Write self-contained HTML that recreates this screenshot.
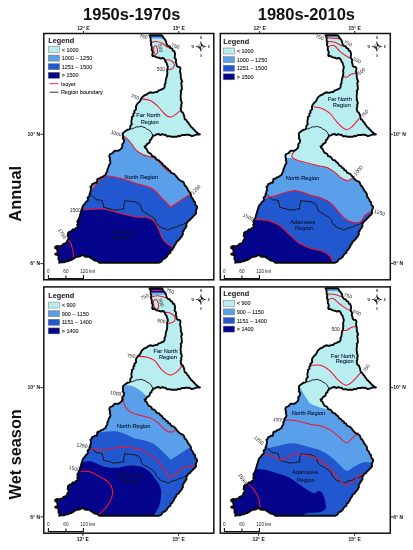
<!DOCTYPE html>
<html><head><meta charset="utf-8"><title>Rainfall maps</title>
<style>
html,body{margin:0;padding:0;background:#fff}
body{width:413px;height:550px;overflow:hidden}
svg{display:block}
text{font-family:"Liberation Sans",sans-serif}
.ttl{font-size:16.5px;font-weight:bold;fill:#111}
.il{font-size:5px;fill:#222;text-anchor:middle}
.rl{font-size:5.7px;fill:#0a1838;stroke:#0a1838;stroke-width:0.1px;text-anchor:middle}
.lt{font-size:7.3px;font-weight:bold;fill:#111}
.lg{font-size:5.5px;fill:#1a1a1a;stroke:#1a1a1a;stroke-width:0.1px}
.sc{font-size:4.6px;fill:#222}
.tk{font-size:5px;font-weight:bold;fill:#111}
.cp{font-size:2.8px;font-weight:bold;fill:#333;text-anchor:middle}
</style></head><body>
<svg width="413" height="550" viewBox="0 0 413 550">
<defs>
<clipPath id="clipOut"><path d="M149.5 35.3 L161.5 35.3 L162.6 36.1 L163.1 37.5 L164.0 38.5 L165.2 39.9 L166.1 41.5 L166.3 43.0 L166.8 44.5 L168.0 45.9 L169.8 46.5 L170.7 48.2 L172.3 48.7 L172.8 50.6 L174.3 51.2 L174.8 52.8 L175.1 54.4 L174.9 56.0 L174.6 57.6 L175.7 58.9 L176.1 60.3 L175.8 62.2 L176.5 63.9 L176.7 65.7 L177.8 66.7 L179.4 66.9 L180.4 68.1 L180.3 69.9 L180.0 71.8 L180.6 73.6 L180.8 75.2 L180.7 76.8 L181.0 78.4 L181.5 80.0 L182.2 81.5 L181.2 83.1 L181.5 84.7 L181.7 86.2 L181.8 87.8 L182.0 89.3 L180.7 90.8 L181.1 92.4 L180.9 93.9 L180.7 95.5 L180.6 97.2 L181.0 98.8 L180.8 100.4 L181.7 102.0 L181.7 103.6 L181.1 105.1 L181.4 106.7 L180.6 108.1 L181.0 109.7 L181.2 111.5 L182.9 112.6 L183.5 114.1 L184.1 115.7 L184.4 117.4 L184.8 119.2 L186.4 120.1 L187.2 121.7 L188.5 122.8 L189.2 124.3 L190.4 125.6 L191.2 127.1 L192.6 128.0 L193.6 129.3 L194.9 130.4 L195.8 131.8 L197.2 132.6 L198.3 133.9 L199.9 134.5 L198.1 134.3 L196.4 134.5 L194.8 135.2 L193.1 135.8 L191.4 136.1 L189.9 135.0 L188.3 134.7 L186.7 134.6 L185.0 135.0 L183.4 134.9 L181.6 135.1 L180.1 136.2 L178.2 135.9 L176.6 136.8 L171.8 136.8 L170.3 136.3 L168.6 136.3 L167.0 136.3 L165.7 134.8 L164.0 134.9 L162.3 134.0 L160.4 135.1 L158.8 134.0 L157.0 134.2 L155.7 134.8 L154.4 135.6 L152.9 135.6 L152.7 136.9 L151.6 137.9 L151.5 139.2 L149.9 140.3 L149.6 142.5 L147.9 143.6 L146.7 144.4 L146.1 146.0 L144.6 146.5 L145.2 147.9 L146.5 148.8 L147.1 150.1 L147.8 151.6 L148.8 152.8 L150.4 153.4 L151.5 154.5 L152.1 156.1 L153.9 156.5 L155.2 157.3 L155.9 158.8 L157.2 160.0 L159.2 160.4 L160.2 162.0 L161.7 162.9 L162.6 164.2 L163.6 165.6 L165.2 166.3 L166.0 167.8 L167.7 168.3 L168.3 170.1 L170.0 170.5 L170.7 172.2 L172.1 173.1 L173.7 173.6 L175.0 174.8 L176.1 176.1 L177.2 177.5 L178.3 178.9 L179.6 180.0 L180.8 180.8 L182.1 181.4 L183.4 182.0 L184.2 183.7 L184.8 185.5 L186.3 186.8 L187.3 188.4 L188.0 190.2 L189.2 191.6 L190.3 193.0 L191.0 194.6 L190.9 196.6 L192.3 197.9 L193.1 199.4 L193.7 200.9 L195.0 202.0 L195.2 203.7 L195.6 205.2 L197.0 206.4 L197.0 208.1 L196.3 209.7 L195.8 211.3 L196.1 213.2 L195.0 214.7 L193.6 215.9 L192.5 217.3 L191.0 218.4 L190.0 220.0 L188.4 220.9 L187.3 222.4 L186.3 224.0 L186.5 226.1 L185.7 227.7 L184.4 229.2 L183.6 230.7 L182.6 232.1 L183.0 234.0 L182.1 235.5 L181.5 237.0 L180.2 238.1 L179.2 239.6 L178.0 240.7 L176.6 241.8 L176.1 243.3 L175.2 244.6 L174.2 245.8 L173.8 247.4 L172.8 248.6 L172.0 250.0 L170.6 250.9 L170.4 252.8 L168.9 253.7 L167.7 254.8 L167.0 256.3 L165.9 257.6 L164.6 258.7 L162.8 259.2 L162.0 260.8 L160.8 262.0 L159.2 262.7 L99.7 262.8 L98.6 262.2 L97.6 261.3 L96.4 260.9 L94.5 260.5 L93.1 259.4 L91.5 258.5 L90.0 257.4 L88.4 256.6 L86.6 256.9 L84.9 256.5 L83.7 255.3 L82.0 255.0 L80.6 256.1 L79.0 256.6 L77.2 256.8 L75.5 257.2 L74.2 258.4 L72.6 259.1 L71.1 260.1 L69.4 260.4 L67.8 261.4 L66.0 261.3 L64.4 262.2 L62.6 262.3 L60.8 262.1 L59.2 262.8 L59.5 261.1 L58.5 259.4 L58.5 257.7 L58.7 256.0 L57.2 254.9 L55.3 254.5 L55.3 253.6 L56.3 253.5 L57.3 253.1 L57.7 251.5 L57.1 250.0 L57.3 248.4 L55.3 248.2 L55.0 247.1 L55.8 246.3 L57.5 245.9 L59.2 246.5 L60.9 245.6 L62.6 245.8 L62.9 244.7 L63.6 243.9 L65.0 243.3 L66.5 242.9 L67.0 241.4 L67.7 240.0 L68.4 238.6 L68.8 237.2 L67.6 236.1 L67.9 234.7 L68.0 232.9 L69.4 231.8 L70.9 231.5 L72.0 230.6 L72.8 229.4 L74.7 229.4 L76.0 228.0 L77.6 227.4 L78.0 226.1 L77.1 225.0 L78.0 223.5 L77.3 221.7 L78.0 220.2 L78.9 218.8 L79.6 217.2 L80.0 215.6 L80.4 214.0 L81.0 212.4 L81.3 210.8 L82.0 209.2 L82.4 207.6 L82.8 206.0 L83.9 204.7 L85.0 203.7 L85.7 202.2 L87.0 201.3 L88.0 199.7 L87.6 197.5 L89.4 196.2 L89.5 194.2 L90.2 193.0 L90.4 191.6 L91.0 190.0 L91.0 188.4 L90.4 186.8 L91.8 185.6 L92.2 183.9 L93.7 183.7 L95.0 182.6 L96.6 182.9 L97.2 181.2 L97.2 179.4 L98.0 178.6 L99.2 178.7 L100.7 177.5 L102.6 176.9 L104.1 175.8 L105.7 174.8 L106.1 173.0 L107.4 171.4 L107.3 169.4 L108.2 168.0 L108.6 166.4 L109.2 164.9 L110.2 163.6 L110.5 161.9 L109.8 160.3 L110.1 158.6 L109.4 157.1 L109.4 155.4 L110.2 154.1 L111.6 153.5 L112.9 152.9 L113.7 151.6 L115.2 150.6 L117.1 150.9 L118.8 150.5 L120.3 149.4 L121.4 148.4 L122.1 147.2 L122.4 145.8 L122.2 144.1 L123.6 142.9 L123.9 141.4 L124.2 139.9 L122.8 138.6 L123.2 137.0 L122.9 135.6 L122.9 134.1 L123.2 132.7 L124.3 132.0 L125.3 131.2 L126.5 130.4 L127.8 129.7 L129.3 129.4 L130.4 128.3 L130.2 126.6 L130.8 125.2 L131.9 124.0 L131.4 122.3 L131.4 120.6 L131.9 118.9 L131.8 117.0 L133.5 115.7 L133.3 113.8 L134.5 112.8 L134.2 111.0 L135.5 110.0 L136.2 108.7 L135.9 107.2 L136.2 105.8 L136.9 104.5 L137.8 103.3 L138.9 102.3 L139.9 101.3 L140.6 100.0 L141.3 98.8 L141.8 97.4 L143.3 96.3 L144.8 95.1 L146.7 94.5 L147.5 93.6 L148.6 93.0 L150.3 92.3 L152.1 92.7 L153.9 92.7 L155.5 92.0 L157.3 92.0 L158.3 90.7 L159.8 90.1 L161.2 89.5 L162.7 89.0 L164.0 88.1 L164.7 86.6 L164.6 84.8 L165.5 83.3 L165.6 81.7 L165.8 80.0 L166.1 78.6 L166.5 77.3 L167.1 76.0 L167.1 74.4 L167.4 72.8 L167.1 71.2 L167.2 69.6 L167.8 68.0 L167.7 66.3 L167.0 64.5 L166.5 62.7 L165.4 61.5 L164.9 59.9 L164.0 58.5 L162.5 58.0 L160.8 58.6 L159.3 57.8 L157.7 57.6 L156.2 57.2 L155.1 56.3 L153.9 55.8 L152.5 56.0 L152.2 54.5 L152.8 52.8 L152.5 51.3 L151.7 49.8 L151.9 48.2 L151.6 46.4 L150.8 44.6 L151.4 42.7 L150.7 40.9 L150.6 39.5 L150.6 38.0 L150.2 36.6Z"/></clipPath>

</defs>
<rect width="413" height="550" fill="#fff"/>
<text x="131.7" y="19.8" class="ttl" text-anchor="middle">1950s-1970s</text>
<text x="306.4" y="19.8" class="ttl" text-anchor="middle">1980s-2010s</text>
<text x="21.4" y="193.8" class="ttl" text-anchor="middle" transform="rotate(-90 21.4 193.8)">Annual</text>
<text x="21.4" y="454.3" class="ttl" style="font-size:16.3px" text-anchor="middle" transform="rotate(-90 21.4 454.3)">Wet season</text>
<g transform="translate(0.0 0.0)">
<rect x="43.80" y="33.50" width="170" height="246.3" fill="#fff" stroke="#111" stroke-width="1.5"/>
<g clip-path="url(#clipOut)">
<rect x="40" y="30" width="200" height="260" fill="#b9eef0"/>
<rect x="145" y="35.0" width="22" height="2.0" fill="#2258cf"/>
<rect x="145" y="37.0" width="22" height="1.5" fill="#5a9fe9"/>
<path d="M40.0 135.8 L123.4 135.8 C124.1 136.4 126.1 137.8 127.5 139.2 C128.9 140.6 130.5 142.5 131.9 144.3 C133.3 146.1 134.4 148.4 136.2 150.1 C138.0 151.8 140.5 153.4 142.8 154.5 C145.1 155.6 147.8 156.1 150.0 156.7 C152.2 157.3 154.3 157.4 155.9 158.3 C157.5 159.2 158.8 161.6 159.4 162.3 L240.0 162.3 L240.0 300.0 L40.0 300.0Z" fill="#5a9fe9"/>
<path d="M40.0 192.6 L89.9 192.6 C91.0 191.2 94.0 186.6 96.6 183.9 C99.2 181.2 101.7 177.2 105.4 176.2 C109.1 175.2 114.0 177.0 118.9 178.1 C123.8 179.2 129.4 181.2 135.0 183.0 C140.6 184.8 147.9 186.1 152.4 188.7 C156.9 191.3 159.2 195.5 162.1 198.4 C165.0 201.3 168.1 204.6 169.6 206.0 C171.1 207.4 170.4 207.0 170.8 207.1 C171.2 207.2 170.7 207.3 172.2 206.3 C173.7 205.3 176.6 203.3 179.6 201.3 C182.6 199.3 188.4 195.4 190.2 194.2 L240.0 190.0 L240.0 300.0 L40.0 300.0Z" fill="#2258cf"/>
<path d="M40.0 209.7 L83.1 209.7 C86.5 209.6 97.8 208.6 103.4 209.1 C109.1 209.6 111.7 211.1 117.0 212.4 C122.3 213.7 130.1 216.0 135.0 216.8 C139.9 217.7 143.5 216.9 146.6 217.5 C149.7 218.1 151.5 218.7 153.4 220.5 C155.3 222.3 156.8 225.3 158.2 228.2 C159.6 231.1 160.6 235.3 162.1 237.9 C163.6 240.5 165.2 242.1 167.0 243.7 C168.8 245.2 171.8 246.6 172.8 247.2 L240.0 250.0 L240.0 300.0 L40.0 300.0Z" fill="#04048c"/>
</g>
<path d="M131.2 129.1 L132.9 128.5 L134.6 127.8 L136.2 126.9 L137.9 126.9 L139.6 126.8 L141.3 126.2 L143.1 127.1 L145.0 127.6 L146.6 129.0 L148.6 129.8 L150.3 131.0 L151.5 132.7 L152.2 134.1 L152.9 135.6" fill="none" stroke="#111" stroke-width="0.95" stroke-linejoin="round"/><path d="M89.9 193.6 L91.4 195.0 L92.9 196.4 L94.5 197.7 L95.7 199.4 L97.3 200.1 L99.2 199.6 L100.8 200.5 L102.5 200.8 L102.4 203.0 L103.6 204.9 L103.4 207.1 L105.3 207.7 L107.2 208.4 L109.4 208.4 L111.2 209.3 L113.1 210.0 L115.3 210.0 L117.4 209.6 L119.5 209.7 L121.6 208.9 L123.8 209.1 L123.7 206.9 L123.8 204.7 L124.5 202.6 L124.7 200.4 L126.6 201.2 L128.6 201.1 L130.5 201.3 L132.0 201.8 L133.5 201.5 L135.0 201.8 L136.9 202.8 L138.9 203.3 L140.2 205.0 L141.0 207.0 L141.6 209.2 L142.7 211.0 L144.3 212.3 L146.1 213.2 L148.1 214.0 L149.5 215.5 L151.3 216.3 L152.9 217.3 L154.4 218.6 L155.6 220.4 L156.0 222.6 L157.3 224.4 L158.8 225.1 L159.6 226.7 L161.1 227.3 L162.6 228.4 L164.7 228.3 L166.3 229.4 L167.9 230.2 L169.6 229.5 L171.1 228.3 L173.0 228.0 L174.5 227.4 L176.2 227.3 L177.6 226.3 L179.4 225.3 L181.5 225.1 L183.4 224.4 L185.2 223.0 L187.3 222.4" fill="none" stroke="#111" stroke-width="0.95" stroke-linejoin="round"/>
<path d="M67.9 239.0 C68.4 239.7 70.0 241.5 70.8 243.4 C71.6 245.3 72.3 247.8 72.8 250.2 C73.3 252.6 73.5 256.6 73.7 257.9" fill="none" stroke="#f5142d" stroke-width="1.05"/>
<path d="M141.0 98.9 C142.5 99.2 147.4 99.3 150.2 100.5 C153.0 101.7 155.3 103.9 157.9 106.3 C160.5 108.7 163.4 113.2 165.7 115.0 C168.0 116.8 169.6 117.3 171.5 117.0 C173.4 116.7 175.6 114.4 177.3 113.1 C179.0 111.8 181.1 109.7 181.8 109.0" fill="none" stroke="#f5142d" stroke-width="1.05"/>
<path d="M123.4 135.8 C124.1 136.4 126.1 137.8 127.5 139.2 C128.9 140.6 130.5 142.5 131.9 144.3 C133.3 146.1 134.4 148.4 136.2 150.1 C138.0 151.8 140.5 153.4 142.8 154.5 C145.1 155.6 147.8 156.1 150.0 156.7 C152.2 157.3 154.3 157.4 155.9 158.3 C157.5 159.2 157.9 160.6 159.4 162.3 C160.9 164.0 162.9 166.4 165.0 168.3 C167.1 170.2 171.0 172.7 172.2 173.6" fill="none" stroke="#f5142d" stroke-width="1.05"/>
<path d="M89.9 192.6 C91.0 191.2 94.0 186.6 96.6 183.9 C99.2 181.2 101.7 177.2 105.4 176.2 C109.1 175.2 114.0 177.0 118.9 178.1 C123.8 179.2 129.4 181.2 135.0 183.0 C140.6 184.8 147.9 186.1 152.4 188.7 C156.9 191.3 159.2 195.5 162.1 198.4 C165.0 201.3 168.1 204.6 169.6 206.0 C171.1 207.4 170.4 207.0 170.8 207.1 C171.2 207.2 170.7 207.3 172.2 206.3 C173.7 205.3 176.6 203.3 179.6 201.3 C182.6 199.3 188.4 195.4 190.2 194.2" fill="none" stroke="#f5142d" stroke-width="1.05"/>
<path d="M83.1 209.7 C86.5 209.6 97.8 208.6 103.4 209.1 C109.1 209.6 111.7 211.1 117.0 212.4 C122.3 213.7 130.1 216.0 135.0 216.8 C139.9 217.7 143.5 216.9 146.6 217.5 C149.7 218.1 151.5 218.7 153.4 220.5 C155.3 222.3 156.8 225.3 158.2 228.2 C159.6 231.1 160.6 235.3 162.1 237.9 C163.6 240.5 165.2 242.1 167.0 243.7 C168.8 245.2 171.8 246.6 172.8 247.2" fill="none" stroke="#f5142d" stroke-width="1.05"/>
<path d="M151.3 42.1 C152.1 42.0 154.4 41.3 156.2 41.5 C158.0 41.7 160.4 42.4 162.2 43.3 C164.0 44.2 165.7 46.0 167.1 46.9 C168.5 47.8 170.1 48.1 170.7 48.4" fill="none" stroke="#f5142d" stroke-width="1.05"/>
<path d="M164.0 60.3 C164.7 60.2 166.9 59.5 168.3 59.7 C169.7 59.9 171.5 60.6 172.5 61.5 C173.5 62.4 174.3 63.9 174.3 65.1 C174.3 66.3 173.6 67.9 172.5 68.7 C171.4 69.5 168.5 69.8 167.7 70.0" fill="none" stroke="#f5142d" stroke-width="1.05"/>
<ellipse cx="155.6" cy="50.0" rx="1.9" ry="4.2" transform="rotate(-6 155.6 50.0)" fill="none" stroke="#f5142d" stroke-width="1.05"/>
<path d="M149.5 35.3 L161.5 35.3 L162.6 36.1 L163.1 37.5 L164.0 38.5 L165.2 39.9 L166.1 41.5 L166.3 43.0 L166.8 44.5 L168.0 45.9 L169.8 46.5 L170.7 48.2 L172.3 48.7 L172.8 50.6 L174.3 51.2 L174.8 52.8 L175.1 54.4 L174.9 56.0 L174.6 57.6 L175.7 58.9 L176.1 60.3 L175.8 62.2 L176.5 63.9 L176.7 65.7 L177.8 66.7 L179.4 66.9 L180.4 68.1 L180.3 69.9 L180.0 71.8 L180.6 73.6 L180.8 75.2 L180.7 76.8 L181.0 78.4 L181.5 80.0 L182.2 81.5 L181.2 83.1 L181.5 84.7 L181.7 86.2 L181.8 87.8 L182.0 89.3 L180.7 90.8 L181.1 92.4 L180.9 93.9 L180.7 95.5 L180.6 97.2 L181.0 98.8 L180.8 100.4 L181.7 102.0 L181.7 103.6 L181.1 105.1 L181.4 106.7 L180.6 108.1 L181.0 109.7 L181.2 111.5 L182.9 112.6 L183.5 114.1 L184.1 115.7 L184.4 117.4 L184.8 119.2 L186.4 120.1 L187.2 121.7 L188.5 122.8 L189.2 124.3 L190.4 125.6 L191.2 127.1 L192.6 128.0 L193.6 129.3 L194.9 130.4 L195.8 131.8 L197.2 132.6 L198.3 133.9 L199.9 134.5 L198.1 134.3 L196.4 134.5 L194.8 135.2 L193.1 135.8 L191.4 136.1 L189.9 135.0 L188.3 134.7 L186.7 134.6 L185.0 135.0 L183.4 134.9 L181.6 135.1 L180.1 136.2 L178.2 135.9 L176.6 136.8 L171.8 136.8 L170.3 136.3 L168.6 136.3 L167.0 136.3 L165.7 134.8 L164.0 134.9 L162.3 134.0 L160.4 135.1 L158.8 134.0 L157.0 134.2 L155.7 134.8 L154.4 135.6 L152.9 135.6 L152.7 136.9 L151.6 137.9 L151.5 139.2 L149.9 140.3 L149.6 142.5 L147.9 143.6 L146.7 144.4 L146.1 146.0 L144.6 146.5 L145.2 147.9 L146.5 148.8 L147.1 150.1 L147.8 151.6 L148.8 152.8 L150.4 153.4 L151.5 154.5 L152.1 156.1 L153.9 156.5 L155.2 157.3 L155.9 158.8 L157.2 160.0 L159.2 160.4 L160.2 162.0 L161.7 162.9 L162.6 164.2 L163.6 165.6 L165.2 166.3 L166.0 167.8 L167.7 168.3 L168.3 170.1 L170.0 170.5 L170.7 172.2 L172.1 173.1 L173.7 173.6 L175.0 174.8 L176.1 176.1 L177.2 177.5 L178.3 178.9 L179.6 180.0 L180.8 180.8 L182.1 181.4 L183.4 182.0 L184.2 183.7 L184.8 185.5 L186.3 186.8 L187.3 188.4 L188.0 190.2 L189.2 191.6 L190.3 193.0 L191.0 194.6 L190.9 196.6 L192.3 197.9 L193.1 199.4 L193.7 200.9 L195.0 202.0 L195.2 203.7 L195.6 205.2 L197.0 206.4 L197.0 208.1 L196.3 209.7 L195.8 211.3 L196.1 213.2 L195.0 214.7 L193.6 215.9 L192.5 217.3 L191.0 218.4 L190.0 220.0 L188.4 220.9 L187.3 222.4 L186.3 224.0 L186.5 226.1 L185.7 227.7 L184.4 229.2 L183.6 230.7 L182.6 232.1 L183.0 234.0 L182.1 235.5 L181.5 237.0 L180.2 238.1 L179.2 239.6 L178.0 240.7 L176.6 241.8 L176.1 243.3 L175.2 244.6 L174.2 245.8 L173.8 247.4 L172.8 248.6 L172.0 250.0 L170.6 250.9 L170.4 252.8 L168.9 253.7 L167.7 254.8 L167.0 256.3 L165.9 257.6 L164.6 258.7 L162.8 259.2 L162.0 260.8 L160.8 262.0 L159.2 262.7 L99.7 262.8 L98.6 262.2 L97.6 261.3 L96.4 260.9 L94.5 260.5 L93.1 259.4 L91.5 258.5 L90.0 257.4 L88.4 256.6 L86.6 256.9 L84.9 256.5 L83.7 255.3 L82.0 255.0 L80.6 256.1 L79.0 256.6 L77.2 256.8 L75.5 257.2 L74.2 258.4 L72.6 259.1 L71.1 260.1 L69.4 260.4 L67.8 261.4 L66.0 261.3 L64.4 262.2 L62.6 262.3 L60.8 262.1 L59.2 262.8 L59.5 261.1 L58.5 259.4 L58.5 257.7 L58.7 256.0 L57.2 254.9 L55.3 254.5 L55.3 253.6 L56.3 253.5 L57.3 253.1 L57.7 251.5 L57.1 250.0 L57.3 248.4 L55.3 248.2 L55.0 247.1 L55.8 246.3 L57.5 245.9 L59.2 246.5 L60.9 245.6 L62.6 245.8 L62.9 244.7 L63.6 243.9 L65.0 243.3 L66.5 242.9 L67.0 241.4 L67.7 240.0 L68.4 238.6 L68.8 237.2 L67.6 236.1 L67.9 234.7 L68.0 232.9 L69.4 231.8 L70.9 231.5 L72.0 230.6 L72.8 229.4 L74.7 229.4 L76.0 228.0 L77.6 227.4 L78.0 226.1 L77.1 225.0 L78.0 223.5 L77.3 221.7 L78.0 220.2 L78.9 218.8 L79.6 217.2 L80.0 215.6 L80.4 214.0 L81.0 212.4 L81.3 210.8 L82.0 209.2 L82.4 207.6 L82.8 206.0 L83.9 204.7 L85.0 203.7 L85.7 202.2 L87.0 201.3 L88.0 199.7 L87.6 197.5 L89.4 196.2 L89.5 194.2 L90.2 193.0 L90.4 191.6 L91.0 190.0 L91.0 188.4 L90.4 186.8 L91.8 185.6 L92.2 183.9 L93.7 183.7 L95.0 182.6 L96.6 182.9 L97.2 181.2 L97.2 179.4 L98.0 178.6 L99.2 178.7 L100.7 177.5 L102.6 176.9 L104.1 175.8 L105.7 174.8 L106.1 173.0 L107.4 171.4 L107.3 169.4 L108.2 168.0 L108.6 166.4 L109.2 164.9 L110.2 163.6 L110.5 161.9 L109.8 160.3 L110.1 158.6 L109.4 157.1 L109.4 155.4 L110.2 154.1 L111.6 153.5 L112.9 152.9 L113.7 151.6 L115.2 150.6 L117.1 150.9 L118.8 150.5 L120.3 149.4 L121.4 148.4 L122.1 147.2 L122.4 145.8 L122.2 144.1 L123.6 142.9 L123.9 141.4 L124.2 139.9 L122.8 138.6 L123.2 137.0 L122.9 135.6 L122.9 134.1 L123.2 132.7 L124.3 132.0 L125.3 131.2 L126.5 130.4 L127.8 129.7 L129.3 129.4 L130.4 128.3 L130.2 126.6 L130.8 125.2 L131.9 124.0 L131.4 122.3 L131.4 120.6 L131.9 118.9 L131.8 117.0 L133.5 115.7 L133.3 113.8 L134.5 112.8 L134.2 111.0 L135.5 110.0 L136.2 108.7 L135.9 107.2 L136.2 105.8 L136.9 104.5 L137.8 103.3 L138.9 102.3 L139.9 101.3 L140.6 100.0 L141.3 98.8 L141.8 97.4 L143.3 96.3 L144.8 95.1 L146.7 94.5 L147.5 93.6 L148.6 93.0 L150.3 92.3 L152.1 92.7 L153.9 92.7 L155.5 92.0 L157.3 92.0 L158.3 90.7 L159.8 90.1 L161.2 89.5 L162.7 89.0 L164.0 88.1 L164.7 86.6 L164.6 84.8 L165.5 83.3 L165.6 81.7 L165.8 80.0 L166.1 78.6 L166.5 77.3 L167.1 76.0 L167.1 74.4 L167.4 72.8 L167.1 71.2 L167.2 69.6 L167.8 68.0 L167.7 66.3 L167.0 64.5 L166.5 62.7 L165.4 61.5 L164.9 59.9 L164.0 58.5 L162.5 58.0 L160.8 58.6 L159.3 57.8 L157.7 57.6 L156.2 57.2 L155.1 56.3 L153.9 55.8 L152.5 56.0 L152.2 54.5 L152.8 52.8 L152.5 51.3 L151.7 49.8 L151.9 48.2 L151.6 46.4 L150.8 44.6 L151.4 42.7 L150.7 40.9 L150.6 39.5 L150.6 38.0 L150.2 36.6Z" fill="none" stroke="#0a0a0a" stroke-width="1.9" stroke-linejoin="round"/>
<text x="143.4" y="38.3" transform="rotate(10 143.4 36.7)" class="il">750</text>
<text x="175.5" y="47.9" transform="rotate(17 175.5 46.3)" class="il">750</text>
<text x="160.4" y="49.8" transform="rotate(80 160.4 48.2)" class="il">500</text>
<text x="160.8" y="70.6" transform="rotate(0 160.8 69.0)" class="il">500</text>
<text x="135.0" y="98.6" transform="rotate(20 135.0 97.0)" class="il">750</text>
<text x="116.2" y="135.1" transform="rotate(15 116.2 133.5)" class="il">1000</text>
<text x="196.0" y="191.3" transform="rotate(-45 196.0 189.7)" class="il">1250</text>
<text x="75.3" y="211.6" transform="rotate(0 75.3 210.0)" class="il">1500</text>
<text x="62.1" y="235.3" transform="rotate(57 62.1 233.7)" class="il">1750</text>
<text x="148.3" y="117.0" class="rl">Far North</text>
<text x="149.7" y="123.8" class="rl">Region</text>
<text x="141.3" y="178.5" class="rl">North Region</text>
<text x="121.8" y="233.8" class="rl">Adamawa</text>
<text x="121.8" y="240.2" class="rl">Region</text>
<text x="48.2" y="42.6" class="lt">Legend</text>
<rect x="48.2" y="46.5" width="11.4" height="6" fill="#b9eef0" stroke="#777" stroke-width="0.5"/>
<text x="61.7" y="51.6" class="lg">&lt; 1000</text>
<rect x="48.2" y="55.1" width="11.4" height="6" fill="#5a9fe9" stroke="#777" stroke-width="0.5"/>
<text x="61.7" y="60.2" class="lg">1000 – 1250</text>
<rect x="48.2" y="63.7" width="11.4" height="6" fill="#2258cf" stroke="#777" stroke-width="0.5"/>
<text x="61.7" y="68.8" class="lg">1251 – 1500</text>
<rect x="48.2" y="72.3" width="11.4" height="6" fill="#04048c" stroke="#777" stroke-width="0.5"/>
<text x="61.7" y="77.4" class="lg">&gt; 1500</text>
<line x1="49.7" y1="83.6" x2="58.4" y2="83.6" stroke="#f5142d" stroke-width="0.9"/>
<text x="60.9" y="85.5" class="lg">Isoyet</text>
<line x1="49.7" y1="92.2" x2="58.4" y2="92.2" stroke="#111" stroke-width="0.9"/>
<text x="60.9" y="94" class="lg">Region boundary</text>
<g transform="translate(200.9 46.6)"><path d="M0 -6 L0.9 -2.2 L-0.9 -2.2Z M0 6 L0.9 2.2 L-0.9 2.2Z M-5.8 0 L-2.2 -0.9 L-2.2 0.9Z M5.8 0 L2.2 -0.9 L2.2 0.9Z" fill="#222"/><path d="M0 -3.3 L3.3 0 L0 3.3 L-3.3 0Z" fill="#fff" stroke="#111" stroke-width="0.5"/><path d="M0 0 L0 -3.3 L3.3 0Z M0 0 L0 3.3 L-3.3 0Z" fill="#111"/><text x="0" y="-7.3" class="cp">N</text><text x="0" y="10" class="cp">S</text><text x="-8.2" y="1.1" class="cp">W</text><text x="8" y="1.1" class="cp">E</text></g>
<path d="M48.4 275 V278.6 H83.4 V275 M65.9 275.5 V278.6" fill="none" stroke="#111" stroke-width="1.1"/>
<text x="48.4" y="272.6" class="sc" text-anchor="middle">0</text>
<text x="65.9" y="272.6" class="sc" text-anchor="middle">60</text>
<text x="80.3" y="272.6" class="sc">120 km</text>
</g>
<g transform="translate(176.0 0.0)">
<rect x="44.30" y="33.50" width="170" height="246.3" fill="#fff" stroke="#111" stroke-width="1.5"/>
<g clip-path="url(#clipOut)">
<rect x="40" y="30" width="200" height="260" fill="#b9eef0"/>
<rect x="145" y="35.0" width="22" height="1.3" fill="#2258cf"/>
<rect x="145" y="36.3" width="22" height="1.2" fill="#5a9fe9"/>
<path d="M40.0 158.1 L115.8 158.1 C116.6 158.5 117.5 159.4 120.7 160.5 C123.9 161.6 131.0 163.6 134.8 164.5 C138.7 165.4 141.1 165.7 143.8 166.2 C146.5 166.7 148.7 166.6 151.1 167.6 C153.5 168.6 155.9 170.2 158.3 172.0 C160.7 173.8 163.4 177.1 165.6 178.5 C167.8 179.9 169.8 180.6 171.4 180.7 C173.0 180.8 173.8 180.1 175.0 179.3 C176.2 178.5 178.1 176.5 178.7 175.9 L240.0 175.0 L240.0 300.0 L40.0 300.0Z" fill="#5a9fe9"/>
<path d="M40.0 198.4 L89.7 198.4 C91.3 198.0 95.8 196.9 99.3 195.8 C102.8 194.7 107.3 192.8 111.0 192.0 C114.7 191.2 117.6 190.4 121.6 191.0 C125.6 191.6 131.0 194.2 134.8 195.3 C138.6 196.4 141.3 196.6 144.5 197.8 C147.7 199.0 151.0 200.0 154.2 202.6 C157.4 205.2 160.7 210.2 163.8 213.3 C166.9 216.4 169.2 219.6 172.6 221.0 C176.0 222.4 181.5 223.0 184.2 222.0 C186.9 221.0 187.1 217.0 189.0 215.2 C190.9 213.4 194.7 212.0 195.8 211.3 L240.0 211.0 L240.0 300.0 L40.0 300.0Z" fill="#2258cf"/>
<path d="M40.0 219.5 L79.0 219.5 C81.1 219.7 87.6 219.5 91.6 220.5 C95.6 221.5 99.7 223.0 103.2 225.3 C106.8 227.6 109.7 231.2 112.9 234.1 C116.1 237.0 118.9 240.4 122.6 242.8 C126.2 245.2 131.2 247.3 134.8 248.6 C138.5 249.9 141.4 249.4 144.5 250.5 C147.6 251.6 151.1 253.4 153.2 255.4 C155.3 257.4 156.4 261.5 157.1 262.7 L157.1 300.0 L40.0 300.0Z" fill="#04048c"/>
</g>
<path d="M131.2 129.1 L132.9 128.5 L134.6 127.8 L136.2 126.9 L137.9 126.9 L139.6 126.8 L141.3 126.2 L143.1 127.1 L145.0 127.6 L146.6 129.0 L148.6 129.8 L150.3 131.0 L151.5 132.7 L152.2 134.1 L152.9 135.6" fill="none" stroke="#111" stroke-width="0.95" stroke-linejoin="round"/><path d="M89.9 193.6 L91.4 195.0 L92.9 196.4 L94.5 197.7 L95.7 199.4 L97.3 200.1 L99.2 199.6 L100.8 200.5 L102.5 200.8 L102.4 203.0 L103.6 204.9 L103.4 207.1 L105.3 207.7 L107.2 208.4 L109.4 208.4 L111.2 209.3 L113.1 210.0 L115.3 210.0 L117.4 209.6 L119.5 209.7 L121.6 208.9 L123.8 209.1 L123.7 206.9 L123.8 204.7 L124.5 202.6 L124.7 200.4 L126.6 201.2 L128.6 201.1 L130.5 201.3 L132.0 201.8 L133.5 201.5 L135.0 201.8 L136.9 202.8 L138.9 203.3 L140.2 205.0 L141.0 207.0 L141.6 209.2 L142.7 211.0 L144.3 212.3 L146.1 213.2 L148.1 214.0 L149.5 215.5 L151.3 216.3 L152.9 217.3 L154.4 218.6 L155.6 220.4 L156.0 222.6 L157.3 224.4 L158.8 225.1 L159.6 226.7 L161.1 227.3 L162.6 228.4 L164.7 228.3 L166.3 229.4 L167.9 230.2 L169.6 229.5 L171.1 228.3 L173.0 228.0 L174.5 227.4 L176.2 227.3 L177.6 226.3 L179.4 225.3 L181.5 225.1 L183.4 224.4 L185.2 223.0 L187.3 222.4" fill="none" stroke="#111" stroke-width="0.95" stroke-linejoin="round"/>
<path d="M118.7 150.4 C118.2 151.4 115.5 154.6 115.8 156.2 C116.1 157.8 117.5 158.7 120.7 160.0 C123.9 161.3 131.0 162.9 134.8 163.9 C138.7 164.9 141.1 165.4 143.8 166.0 C146.5 166.6 148.7 166.4 151.1 167.4 C153.5 168.4 155.9 170.0 158.3 171.8 C160.7 173.6 163.4 176.9 165.6 178.3 C167.8 179.8 169.8 180.4 171.4 180.5 C173.0 180.6 173.8 179.9 175.0 179.1 C176.2 178.3 178.1 176.4 178.7 175.9" fill="none" stroke="#f5142d" stroke-width="1.05"/>
<path d="M89.7 198.4 C91.3 198.0 95.8 196.9 99.3 195.8 C102.8 194.7 107.3 192.8 111.0 192.0 C114.7 191.2 117.6 190.4 121.6 191.0 C125.6 191.6 131.0 194.2 134.8 195.3 C138.6 196.4 141.3 196.6 144.5 197.8 C147.7 199.0 151.0 200.0 154.2 202.6 C157.4 205.2 160.7 210.2 163.8 213.3 C166.9 216.4 169.2 219.6 172.6 221.0 C176.0 222.4 181.5 223.0 184.2 222.0 C186.9 221.0 187.1 217.0 189.0 215.2 C190.9 213.4 194.7 212.0 195.8 211.3" fill="none" stroke="#f5142d" stroke-width="1.05"/>
<path d="M79.0 219.5 C81.1 219.7 87.6 219.5 91.6 220.5 C95.6 221.5 99.7 223.0 103.2 225.3 C106.8 227.6 109.7 231.2 112.9 234.1 C116.1 237.0 118.9 240.4 122.6 242.8 C126.2 245.2 131.2 247.3 134.8 248.6 C138.5 249.9 141.4 249.4 144.5 250.5 C147.6 251.6 151.1 253.4 153.2 255.4 C155.3 257.4 156.4 261.5 157.1 262.7" fill="none" stroke="#f5142d" stroke-width="1.05"/>
<path d="M137.7 106.8 C139.1 107.1 143.7 107.6 146.4 108.7 C149.2 109.8 151.6 111.2 154.2 113.6 C156.8 116.0 159.3 120.6 161.9 123.2 C164.5 125.8 167.4 128.8 169.7 129.4 C172.0 130.1 173.2 128.9 175.5 127.1 C177.8 125.3 181.9 119.9 183.2 118.4" fill="none" stroke="#f5142d" stroke-width="1.05"/>
<path d="M149.9 37.7 C152.2 37.9 161.5 38.5 163.8 38.7" fill="none" stroke="#f5142d" stroke-width="1.05"/>
<path d="M150.7 41.6 C151.9 41.7 155.3 41.2 158.0 42.0 C160.7 42.8 165.3 45.8 166.8 46.5" fill="none" stroke="#f5142d" stroke-width="1.05"/>
<path d="M152.2 46.5 C153.2 46.3 156.1 44.7 158.0 45.5 C159.9 46.3 161.7 49.5 163.8 51.3 C165.9 53.1 168.7 55.0 170.6 56.2 C172.5 57.4 174.7 58.3 175.5 58.7" fill="none" stroke="#f5142d" stroke-width="1.05"/>
<path d="M166.3 75.8 C167.0 76.0 169.2 77.5 170.7 77.2 C172.1 77.0 173.3 75.0 175.0 74.3 C176.7 73.6 179.9 73.1 180.9 72.9" fill="none" stroke="#f5142d" stroke-width="1.05"/>
<path d="M149.5 35.3 L161.5 35.3 L162.6 36.1 L163.1 37.5 L164.0 38.5 L165.2 39.9 L166.1 41.5 L166.3 43.0 L166.8 44.5 L168.0 45.9 L169.8 46.5 L170.7 48.2 L172.3 48.7 L172.8 50.6 L174.3 51.2 L174.8 52.8 L175.1 54.4 L174.9 56.0 L174.6 57.6 L175.7 58.9 L176.1 60.3 L175.8 62.2 L176.5 63.9 L176.7 65.7 L177.8 66.7 L179.4 66.9 L180.4 68.1 L180.3 69.9 L180.0 71.8 L180.6 73.6 L180.8 75.2 L180.7 76.8 L181.0 78.4 L181.5 80.0 L182.2 81.5 L181.2 83.1 L181.5 84.7 L181.7 86.2 L181.8 87.8 L182.0 89.3 L180.7 90.8 L181.1 92.4 L180.9 93.9 L180.7 95.5 L180.6 97.2 L181.0 98.8 L180.8 100.4 L181.7 102.0 L181.7 103.6 L181.1 105.1 L181.4 106.7 L180.6 108.1 L181.0 109.7 L181.2 111.5 L182.9 112.6 L183.5 114.1 L184.1 115.7 L184.4 117.4 L184.8 119.2 L186.4 120.1 L187.2 121.7 L188.5 122.8 L189.2 124.3 L190.4 125.6 L191.2 127.1 L192.6 128.0 L193.6 129.3 L194.9 130.4 L195.8 131.8 L197.2 132.6 L198.3 133.9 L199.9 134.5 L198.1 134.3 L196.4 134.5 L194.8 135.2 L193.1 135.8 L191.4 136.1 L189.9 135.0 L188.3 134.7 L186.7 134.6 L185.0 135.0 L183.4 134.9 L181.6 135.1 L180.1 136.2 L178.2 135.9 L176.6 136.8 L171.8 136.8 L170.3 136.3 L168.6 136.3 L167.0 136.3 L165.7 134.8 L164.0 134.9 L162.3 134.0 L160.4 135.1 L158.8 134.0 L157.0 134.2 L155.7 134.8 L154.4 135.6 L152.9 135.6 L152.7 136.9 L151.6 137.9 L151.5 139.2 L149.9 140.3 L149.6 142.5 L147.9 143.6 L146.7 144.4 L146.1 146.0 L144.6 146.5 L145.2 147.9 L146.5 148.8 L147.1 150.1 L147.8 151.6 L148.8 152.8 L150.4 153.4 L151.5 154.5 L152.1 156.1 L153.9 156.5 L155.2 157.3 L155.9 158.8 L157.2 160.0 L159.2 160.4 L160.2 162.0 L161.7 162.9 L162.6 164.2 L163.6 165.6 L165.2 166.3 L166.0 167.8 L167.7 168.3 L168.3 170.1 L170.0 170.5 L170.7 172.2 L172.1 173.1 L173.7 173.6 L175.0 174.8 L176.1 176.1 L177.2 177.5 L178.3 178.9 L179.6 180.0 L180.8 180.8 L182.1 181.4 L183.4 182.0 L184.2 183.7 L184.8 185.5 L186.3 186.8 L187.3 188.4 L188.0 190.2 L189.2 191.6 L190.3 193.0 L191.0 194.6 L190.9 196.6 L192.3 197.9 L193.1 199.4 L193.7 200.9 L195.0 202.0 L195.2 203.7 L195.6 205.2 L197.0 206.4 L197.0 208.1 L196.3 209.7 L195.8 211.3 L196.1 213.2 L195.0 214.7 L193.6 215.9 L192.5 217.3 L191.0 218.4 L190.0 220.0 L188.4 220.9 L187.3 222.4 L186.3 224.0 L186.5 226.1 L185.7 227.7 L184.4 229.2 L183.6 230.7 L182.6 232.1 L183.0 234.0 L182.1 235.5 L181.5 237.0 L180.2 238.1 L179.2 239.6 L178.0 240.7 L176.6 241.8 L176.1 243.3 L175.2 244.6 L174.2 245.8 L173.8 247.4 L172.8 248.6 L172.0 250.0 L170.6 250.9 L170.4 252.8 L168.9 253.7 L167.7 254.8 L167.0 256.3 L165.9 257.6 L164.6 258.7 L162.8 259.2 L162.0 260.8 L160.8 262.0 L159.2 262.7 L99.7 262.8 L98.6 262.2 L97.6 261.3 L96.4 260.9 L94.5 260.5 L93.1 259.4 L91.5 258.5 L90.0 257.4 L88.4 256.6 L86.6 256.9 L84.9 256.5 L83.7 255.3 L82.0 255.0 L80.6 256.1 L79.0 256.6 L77.2 256.8 L75.5 257.2 L74.2 258.4 L72.6 259.1 L71.1 260.1 L69.4 260.4 L67.8 261.4 L66.0 261.3 L64.4 262.2 L62.6 262.3 L60.8 262.1 L59.2 262.8 L59.5 261.1 L58.5 259.4 L58.5 257.7 L58.7 256.0 L57.2 254.9 L55.3 254.5 L55.3 253.6 L56.3 253.5 L57.3 253.1 L57.7 251.5 L57.1 250.0 L57.3 248.4 L55.3 248.2 L55.0 247.1 L55.8 246.3 L57.5 245.9 L59.2 246.5 L60.9 245.6 L62.6 245.8 L62.9 244.7 L63.6 243.9 L65.0 243.3 L66.5 242.9 L67.0 241.4 L67.7 240.0 L68.4 238.6 L68.8 237.2 L67.6 236.1 L67.9 234.7 L68.0 232.9 L69.4 231.8 L70.9 231.5 L72.0 230.6 L72.8 229.4 L74.7 229.4 L76.0 228.0 L77.6 227.4 L78.0 226.1 L77.1 225.0 L78.0 223.5 L77.3 221.7 L78.0 220.2 L78.9 218.8 L79.6 217.2 L80.0 215.6 L80.4 214.0 L81.0 212.4 L81.3 210.8 L82.0 209.2 L82.4 207.6 L82.8 206.0 L83.9 204.7 L85.0 203.7 L85.7 202.2 L87.0 201.3 L88.0 199.7 L87.6 197.5 L89.4 196.2 L89.5 194.2 L90.2 193.0 L90.4 191.6 L91.0 190.0 L91.0 188.4 L90.4 186.8 L91.8 185.6 L92.2 183.9 L93.7 183.7 L95.0 182.6 L96.6 182.9 L97.2 181.2 L97.2 179.4 L98.0 178.6 L99.2 178.7 L100.7 177.5 L102.6 176.9 L104.1 175.8 L105.7 174.8 L106.1 173.0 L107.4 171.4 L107.3 169.4 L108.2 168.0 L108.6 166.4 L109.2 164.9 L110.2 163.6 L110.5 161.9 L109.8 160.3 L110.1 158.6 L109.4 157.1 L109.4 155.4 L110.2 154.1 L111.6 153.5 L112.9 152.9 L113.7 151.6 L115.2 150.6 L117.1 150.9 L118.8 150.5 L120.3 149.4 L121.4 148.4 L122.1 147.2 L122.4 145.8 L122.2 144.1 L123.6 142.9 L123.9 141.4 L124.2 139.9 L122.8 138.6 L123.2 137.0 L122.9 135.6 L122.9 134.1 L123.2 132.7 L124.3 132.0 L125.3 131.2 L126.5 130.4 L127.8 129.7 L129.3 129.4 L130.4 128.3 L130.2 126.6 L130.8 125.2 L131.9 124.0 L131.4 122.3 L131.4 120.6 L131.9 118.9 L131.8 117.0 L133.5 115.7 L133.3 113.8 L134.5 112.8 L134.2 111.0 L135.5 110.0 L136.2 108.7 L135.9 107.2 L136.2 105.8 L136.9 104.5 L137.8 103.3 L138.9 102.3 L139.9 101.3 L140.6 100.0 L141.3 98.8 L141.8 97.4 L143.3 96.3 L144.8 95.1 L146.7 94.5 L147.5 93.6 L148.6 93.0 L150.3 92.3 L152.1 92.7 L153.9 92.7 L155.5 92.0 L157.3 92.0 L158.3 90.7 L159.8 90.1 L161.2 89.5 L162.7 89.0 L164.0 88.1 L164.7 86.6 L164.6 84.8 L165.5 83.3 L165.6 81.7 L165.8 80.0 L166.1 78.6 L166.5 77.3 L167.1 76.0 L167.1 74.4 L167.4 72.8 L167.1 71.2 L167.2 69.6 L167.8 68.0 L167.7 66.3 L167.0 64.5 L166.5 62.7 L165.4 61.5 L164.9 59.9 L164.0 58.5 L162.5 58.0 L160.8 58.6 L159.3 57.8 L157.7 57.6 L156.2 57.2 L155.1 56.3 L153.9 55.8 L152.5 56.0 L152.2 54.5 L152.8 52.8 L152.5 51.3 L151.7 49.8 L151.9 48.2 L151.6 46.4 L150.8 44.6 L151.4 42.7 L150.7 40.9 L150.6 39.5 L150.6 38.0 L150.2 36.6Z" fill="none" stroke="#0a0a0a" stroke-width="1.9" stroke-linejoin="round"/>
<text x="143.5" y="39.0" transform="rotate(15 143.5 37.4)" class="il">750</text>
<text x="171.8" y="45.1" transform="rotate(25 171.8 43.5)" class="il">750</text>
<text x="181.0" y="62.1" transform="rotate(25 181.0 60.5)" class="il">500</text>
<text x="185.5" y="73.1" transform="rotate(-40 185.5 71.5)" class="il">500</text>
<text x="189.0" y="115.2" transform="rotate(-50 189.0 113.6)" class="il">750</text>
<text x="182.3" y="172.3" transform="rotate(-50 182.3 170.7)" class="il">1000</text>
<text x="203.6" y="214.3" transform="rotate(15 203.6 212.7)" class="il">1250</text>
<text x="72.2" y="218.7" transform="rotate(25 72.2 217.1)" class="il">1500</text>
<text x="163.8" y="101.0" class="rl">Far North</text>
<text x="165.8" y="107.2" class="rl">Region</text>
<text x="126.5" y="180.2" class="rl">North Region</text>
<text x="126.8" y="223.6" class="rl">Adamawa</text>
<text x="128.0" y="230.2" class="rl">Region</text>
<text x="47.2" y="44.1" class="lt">Legend</text>
<rect x="47.2" y="48.0" width="11.4" height="6" fill="#b9eef0" stroke="#777" stroke-width="0.5"/>
<text x="60.7" y="53.1" class="lg">&lt; 1000</text>
<rect x="47.2" y="56.6" width="11.4" height="6" fill="#5a9fe9" stroke="#777" stroke-width="0.5"/>
<text x="60.7" y="61.7" class="lg">1000 – 1250</text>
<rect x="47.2" y="65.2" width="11.4" height="6" fill="#2258cf" stroke="#777" stroke-width="0.5"/>
<text x="60.7" y="70.3" class="lg">1251 – 1500</text>
<rect x="47.2" y="73.8" width="11.4" height="6" fill="#04048c" stroke="#777" stroke-width="0.5"/>
<text x="60.7" y="78.9" class="lg">&gt; 1500</text>
<g transform="translate(200.9 46.6)"><path d="M0 -6 L0.9 -2.2 L-0.9 -2.2Z M0 6 L0.9 2.2 L-0.9 2.2Z M-5.8 0 L-2.2 -0.9 L-2.2 0.9Z M5.8 0 L2.2 -0.9 L2.2 0.9Z" fill="#222"/><path d="M0 -3.3 L3.3 0 L0 3.3 L-3.3 0Z" fill="#fff" stroke="#111" stroke-width="0.5"/><path d="M0 0 L0 -3.3 L3.3 0Z M0 0 L0 3.3 L-3.3 0Z" fill="#111"/><text x="0" y="-7.3" class="cp">N</text><text x="0" y="10" class="cp">S</text><text x="-8.2" y="1.1" class="cp">W</text><text x="8" y="1.1" class="cp">E</text></g>
<path d="M48.4 275 V278.6 H83.4 V275 M65.9 275.5 V278.6" fill="none" stroke="#111" stroke-width="1.1"/>
<text x="48.4" y="272.6" class="sc" text-anchor="middle">0</text>
<text x="65.9" y="272.6" class="sc" text-anchor="middle">60</text>
<text x="80.3" y="272.6" class="sc">120 km</text>
</g>
<g transform="translate(0.0 253.0)">
<rect x="43.80" y="33.90" width="170" height="246.3" fill="#fff" stroke="#111" stroke-width="1.5"/>
<g clip-path="url(#clipOut)">
<rect x="40" y="30" width="200" height="260" fill="#b9eef0"/>
<rect x="145" y="35.0" width="22" height="4.0" fill="#04048c"/>
<rect x="145" y="39.0" width="22" height="1.2" fill="#2258cf"/>
<rect x="145" y="40.2" width="22" height="1.4" fill="#5a9fe9"/>
<path d="M40.0 132.3 L126.3 132.3 C127.4 132.5 130.7 132.3 133.1 133.3 C135.5 134.3 138.5 136.3 140.9 138.1 C143.3 139.9 146.5 142.9 147.6 143.9 L240.0 143.9 L240.0 300.0 L40.0 300.0Z" fill="#5a9fe9"/>
<path d="M40.0 179.7 L96.6 179.7 C98.1 179.5 102.0 178.9 105.4 178.7 C108.8 178.5 113.5 177.9 117.0 178.4 C120.5 178.9 123.7 180.5 126.7 181.7 C129.7 182.9 132.0 184.5 135.0 185.5 C138.0 186.5 141.5 186.5 144.7 187.5 C147.9 188.5 151.2 189.2 154.4 191.3 C157.6 193.4 161.5 197.7 164.0 200.1 C166.5 202.5 168.5 204.7 169.6 205.8 C170.7 206.9 170.4 206.8 170.8 206.8 C171.2 206.8 170.7 207.0 172.2 206.0 C173.7 205.0 176.6 202.9 179.6 201.0 C182.6 199.1 188.4 195.4 190.2 194.3 L240.0 190.0 L240.0 300.0 L40.0 300.0Z" fill="#2258cf"/>
<path d="M40.0 209.0 L83.6 209.0 C84.6 208.8 87.6 207.7 89.9 208.0 C92.2 208.3 95.0 209.9 97.6 210.9 C100.2 211.9 102.2 213.2 105.4 213.9 C108.6 214.6 113.5 215.0 117.0 214.8 C120.5 214.6 123.7 213.2 126.7 212.9 C129.7 212.6 132.3 212.5 135.0 212.7 C137.7 212.9 140.1 213.1 142.7 214.2 C145.3 215.3 148.4 217.4 150.5 219.4 C152.6 221.4 154.0 224.4 155.3 226.2 C156.6 227.9 157.2 228.0 158.2 229.9 C159.2 231.8 160.8 234.4 161.1 237.6 C161.4 240.8 160.8 246.1 160.2 249.3 C159.6 252.5 158.4 254.8 157.3 257.0 C156.2 259.2 154.1 261.5 153.4 262.4 L153.4 300.0 L40.0 300.0Z" fill="#04048c"/>
</g>
<path d="M131.2 129.1 L132.9 128.5 L134.6 127.8 L136.2 126.9 L137.9 126.9 L139.6 126.8 L141.3 126.2 L143.1 127.1 L145.0 127.6 L146.6 129.0 L148.6 129.8 L150.3 131.0 L151.5 132.7 L152.2 134.1 L152.9 135.6" fill="none" stroke="#111" stroke-width="0.95" stroke-linejoin="round"/><path d="M89.9 193.6 L91.4 195.0 L92.9 196.4 L94.5 197.7 L95.7 199.4 L97.3 200.1 L99.2 199.6 L100.8 200.5 L102.5 200.8 L102.4 203.0 L103.6 204.9 L103.4 207.1 L105.3 207.7 L107.2 208.4 L109.4 208.4 L111.2 209.3 L113.1 210.0 L115.3 210.0 L117.4 209.6 L119.5 209.7 L121.6 208.9 L123.8 209.1 L123.7 206.9 L123.8 204.7 L124.5 202.6 L124.7 200.4 L126.6 201.2 L128.6 201.1 L130.5 201.3 L132.0 201.8 L133.5 201.5 L135.0 201.8 L136.9 202.8 L138.9 203.3 L140.2 205.0 L141.0 207.0 L141.6 209.2 L142.7 211.0 L144.3 212.3 L146.1 213.2 L148.1 214.0 L149.5 215.5 L151.3 216.3 L152.9 217.3 L154.4 218.6 L155.6 220.4 L156.0 222.6 L157.3 224.4 L158.8 225.1 L159.6 226.7 L161.1 227.3 L162.6 228.4 L164.7 228.3 L166.3 229.4 L167.9 230.2 L169.6 229.5 L171.1 228.3 L173.0 228.0 L174.5 227.4 L176.2 227.3 L177.6 226.3 L179.4 225.3 L181.5 225.1 L183.4 224.4 L185.2 223.0 L187.3 222.4" fill="none" stroke="#111" stroke-width="0.95" stroke-linejoin="round"/>
<path d="M138.0 103.3 C139.4 103.4 144.0 103.3 146.7 104.0 C149.4 104.7 151.8 105.2 154.4 107.4 C157.0 109.6 159.5 114.7 162.1 117.1 C164.7 119.5 167.5 121.7 169.9 122.0 C172.3 122.3 174.5 120.7 176.6 119.1 C178.7 117.5 181.5 113.4 182.5 112.3" fill="none" stroke="#f5142d" stroke-width="1.05"/>
<path d="M123.2 142.7 C123.4 144.1 123.2 148.8 124.2 151.4 C125.2 154.0 126.7 156.4 129.1 158.2 C131.5 160.0 135.1 160.9 138.7 162.0 C142.2 163.1 147.2 163.6 150.4 164.9 C153.6 166.2 155.5 167.7 158.1 169.8 C160.7 171.9 163.6 175.9 165.9 177.5 C168.2 179.1 169.9 179.3 171.7 179.1 C173.5 178.9 175.7 176.7 176.5 176.2" fill="none" stroke="#f5142d" stroke-width="1.05"/>
<path d="M88.9 195.2 C91.3 195.5 98.7 197.3 103.4 197.2 C108.1 197.1 113.1 195.1 117.0 194.6 C120.9 194.1 123.7 193.8 126.7 193.9 C129.7 194.0 132.0 194.5 135.0 195.2 C138.0 195.9 141.5 196.5 144.7 198.1 C147.9 199.7 151.2 202.0 154.4 204.9 C157.6 207.8 161.6 212.4 164.0 215.6 C166.4 218.8 167.3 223.0 168.9 224.2 C170.5 225.4 171.6 224.2 173.7 222.8 C175.8 221.4 178.9 217.6 181.5 216.0 C184.1 214.4 186.6 213.4 189.2 213.0 C191.8 212.6 195.7 213.4 197.0 213.5" fill="none" stroke="#f5142d" stroke-width="1.05"/>
<path d="M80.2 218.3 C81.7 218.4 85.8 217.8 88.9 218.6 C92.0 219.4 95.4 221.4 98.6 223.1 C101.8 224.8 106.0 226.8 108.3 228.9 C110.5 231.0 111.5 233.3 112.1 235.7 C112.7 238.1 112.9 240.5 112.1 243.4 C111.3 246.3 109.5 250.0 107.3 253.1 C105.0 256.2 100.0 260.4 98.6 261.8" fill="none" stroke="#f5142d" stroke-width="1.05"/>
<path d="M151.8 43.8 C152.7 43.6 155.2 42.8 157.0 42.8 C158.8 42.8 161.3 43.4 162.9 43.8 C164.5 44.2 165.9 44.8 166.5 45.0" fill="none" stroke="#f5142d" stroke-width="1.05"/>
<path d="M150.3 37.4 C152.4 37.4 160.9 37.4 163.0 37.4" fill="none" stroke="#f5142d" stroke-width="1.05"/>
<path d="M163.6 59.1 C164.6 59.2 167.7 59.2 169.4 59.8 C171.1 60.4 172.8 61.6 173.8 62.7 C174.8 63.8 175.3 65.2 175.2 66.3 C175.1 67.4 174.2 68.5 173.0 69.2 C171.8 69.9 168.8 70.2 168.0 70.4" fill="none" stroke="#f5142d" stroke-width="1.05"/>
<ellipse cx="156.0" cy="51.2" rx="2.4" ry="4.7" transform="rotate(-14 156.0 51.2)" fill="none" stroke="#f5142d" stroke-width="1.05"/>
<path d="M149.5 35.3 L161.5 35.3 L162.6 36.1 L163.1 37.5 L164.0 38.5 L165.2 39.9 L166.1 41.5 L166.3 43.0 L166.8 44.5 L168.0 45.9 L169.8 46.5 L170.7 48.2 L172.3 48.7 L172.8 50.6 L174.3 51.2 L174.8 52.8 L175.1 54.4 L174.9 56.0 L174.6 57.6 L175.7 58.9 L176.1 60.3 L175.8 62.2 L176.5 63.9 L176.7 65.7 L177.8 66.7 L179.4 66.9 L180.4 68.1 L180.3 69.9 L180.0 71.8 L180.6 73.6 L180.8 75.2 L180.7 76.8 L181.0 78.4 L181.5 80.0 L182.2 81.5 L181.2 83.1 L181.5 84.7 L181.7 86.2 L181.8 87.8 L182.0 89.3 L180.7 90.8 L181.1 92.4 L180.9 93.9 L180.7 95.5 L180.6 97.2 L181.0 98.8 L180.8 100.4 L181.7 102.0 L181.7 103.6 L181.1 105.1 L181.4 106.7 L180.6 108.1 L181.0 109.7 L181.2 111.5 L182.9 112.6 L183.5 114.1 L184.1 115.7 L184.4 117.4 L184.8 119.2 L186.4 120.1 L187.2 121.7 L188.5 122.8 L189.2 124.3 L190.4 125.6 L191.2 127.1 L192.6 128.0 L193.6 129.3 L194.9 130.4 L195.8 131.8 L197.2 132.6 L198.3 133.9 L199.9 134.5 L198.1 134.3 L196.4 134.5 L194.8 135.2 L193.1 135.8 L191.4 136.1 L189.9 135.0 L188.3 134.7 L186.7 134.6 L185.0 135.0 L183.4 134.9 L181.6 135.1 L180.1 136.2 L178.2 135.9 L176.6 136.8 L171.8 136.8 L170.3 136.3 L168.6 136.3 L167.0 136.3 L165.7 134.8 L164.0 134.9 L162.3 134.0 L160.4 135.1 L158.8 134.0 L157.0 134.2 L155.7 134.8 L154.4 135.6 L152.9 135.6 L152.7 136.9 L151.6 137.9 L151.5 139.2 L149.9 140.3 L149.6 142.5 L147.9 143.6 L146.7 144.4 L146.1 146.0 L144.6 146.5 L145.2 147.9 L146.5 148.8 L147.1 150.1 L147.8 151.6 L148.8 152.8 L150.4 153.4 L151.5 154.5 L152.1 156.1 L153.9 156.5 L155.2 157.3 L155.9 158.8 L157.2 160.0 L159.2 160.4 L160.2 162.0 L161.7 162.9 L162.6 164.2 L163.6 165.6 L165.2 166.3 L166.0 167.8 L167.7 168.3 L168.3 170.1 L170.0 170.5 L170.7 172.2 L172.1 173.1 L173.7 173.6 L175.0 174.8 L176.1 176.1 L177.2 177.5 L178.3 178.9 L179.6 180.0 L180.8 180.8 L182.1 181.4 L183.4 182.0 L184.2 183.7 L184.8 185.5 L186.3 186.8 L187.3 188.4 L188.0 190.2 L189.2 191.6 L190.3 193.0 L191.0 194.6 L190.9 196.6 L192.3 197.9 L193.1 199.4 L193.7 200.9 L195.0 202.0 L195.2 203.7 L195.6 205.2 L197.0 206.4 L197.0 208.1 L196.3 209.7 L195.8 211.3 L196.1 213.2 L195.0 214.7 L193.6 215.9 L192.5 217.3 L191.0 218.4 L190.0 220.0 L188.4 220.9 L187.3 222.4 L186.3 224.0 L186.5 226.1 L185.7 227.7 L184.4 229.2 L183.6 230.7 L182.6 232.1 L183.0 234.0 L182.1 235.5 L181.5 237.0 L180.2 238.1 L179.2 239.6 L178.0 240.7 L176.6 241.8 L176.1 243.3 L175.2 244.6 L174.2 245.8 L173.8 247.4 L172.8 248.6 L172.0 250.0 L170.6 250.9 L170.4 252.8 L168.9 253.7 L167.7 254.8 L167.0 256.3 L165.9 257.6 L164.6 258.7 L162.8 259.2 L162.0 260.8 L160.8 262.0 L159.2 262.7 L99.7 262.8 L98.6 262.2 L97.6 261.3 L96.4 260.9 L94.5 260.5 L93.1 259.4 L91.5 258.5 L90.0 257.4 L88.4 256.6 L86.6 256.9 L84.9 256.5 L83.7 255.3 L82.0 255.0 L80.6 256.1 L79.0 256.6 L77.2 256.8 L75.5 257.2 L74.2 258.4 L72.6 259.1 L71.1 260.1 L69.4 260.4 L67.8 261.4 L66.0 261.3 L64.4 262.2 L62.6 262.3 L60.8 262.1 L59.2 262.8 L59.5 261.1 L58.5 259.4 L58.5 257.7 L58.7 256.0 L57.2 254.9 L55.3 254.5 L55.3 253.6 L56.3 253.5 L57.3 253.1 L57.7 251.5 L57.1 250.0 L57.3 248.4 L55.3 248.2 L55.0 247.1 L55.8 246.3 L57.5 245.9 L59.2 246.5 L60.9 245.6 L62.6 245.8 L62.9 244.7 L63.6 243.9 L65.0 243.3 L66.5 242.9 L67.0 241.4 L67.7 240.0 L68.4 238.6 L68.8 237.2 L67.6 236.1 L67.9 234.7 L68.0 232.9 L69.4 231.8 L70.9 231.5 L72.0 230.6 L72.8 229.4 L74.7 229.4 L76.0 228.0 L77.6 227.4 L78.0 226.1 L77.1 225.0 L78.0 223.5 L77.3 221.7 L78.0 220.2 L78.9 218.8 L79.6 217.2 L80.0 215.6 L80.4 214.0 L81.0 212.4 L81.3 210.8 L82.0 209.2 L82.4 207.6 L82.8 206.0 L83.9 204.7 L85.0 203.7 L85.7 202.2 L87.0 201.3 L88.0 199.7 L87.6 197.5 L89.4 196.2 L89.5 194.2 L90.2 193.0 L90.4 191.6 L91.0 190.0 L91.0 188.4 L90.4 186.8 L91.8 185.6 L92.2 183.9 L93.7 183.7 L95.0 182.6 L96.6 182.9 L97.2 181.2 L97.2 179.4 L98.0 178.6 L99.2 178.7 L100.7 177.5 L102.6 176.9 L104.1 175.8 L105.7 174.8 L106.1 173.0 L107.4 171.4 L107.3 169.4 L108.2 168.0 L108.6 166.4 L109.2 164.9 L110.2 163.6 L110.5 161.9 L109.8 160.3 L110.1 158.6 L109.4 157.1 L109.4 155.4 L110.2 154.1 L111.6 153.5 L112.9 152.9 L113.7 151.6 L115.2 150.6 L117.1 150.9 L118.8 150.5 L120.3 149.4 L121.4 148.4 L122.1 147.2 L122.4 145.8 L122.2 144.1 L123.6 142.9 L123.9 141.4 L124.2 139.9 L122.8 138.6 L123.2 137.0 L122.9 135.6 L122.9 134.1 L123.2 132.7 L124.3 132.0 L125.3 131.2 L126.5 130.4 L127.8 129.7 L129.3 129.4 L130.4 128.3 L130.2 126.6 L130.8 125.2 L131.9 124.0 L131.4 122.3 L131.4 120.6 L131.9 118.9 L131.8 117.0 L133.5 115.7 L133.3 113.8 L134.5 112.8 L134.2 111.0 L135.5 110.0 L136.2 108.7 L135.9 107.2 L136.2 105.8 L136.9 104.5 L137.8 103.3 L138.9 102.3 L139.9 101.3 L140.6 100.0 L141.3 98.8 L141.8 97.4 L143.3 96.3 L144.8 95.1 L146.7 94.5 L147.5 93.6 L148.6 93.0 L150.3 92.3 L152.1 92.7 L153.9 92.7 L155.5 92.0 L157.3 92.0 L158.3 90.7 L159.8 90.1 L161.2 89.5 L162.7 89.0 L164.0 88.1 L164.7 86.6 L164.6 84.8 L165.5 83.3 L165.6 81.7 L165.8 80.0 L166.1 78.6 L166.5 77.3 L167.1 76.0 L167.1 74.4 L167.4 72.8 L167.1 71.2 L167.2 69.6 L167.8 68.0 L167.7 66.3 L167.0 64.5 L166.5 62.7 L165.4 61.5 L164.9 59.9 L164.0 58.5 L162.5 58.0 L160.8 58.6 L159.3 57.8 L157.7 57.6 L156.2 57.2 L155.1 56.3 L153.9 55.8 L152.5 56.0 L152.2 54.5 L152.8 52.8 L152.5 51.3 L151.7 49.8 L151.9 48.2 L151.6 46.4 L150.8 44.6 L151.4 42.7 L150.7 40.9 L150.6 39.5 L150.6 38.0 L150.2 36.6Z" fill="none" stroke="#0a0a0a" stroke-width="1.9" stroke-linejoin="round"/>
<text x="170.1" y="39.6" transform="rotate(15 170.1 38.0)" class="il">750</text>
<text x="144.7" y="45.4" transform="rotate(-20 144.7 43.8)" class="il">750</text>
<text x="161.1" y="51.2" transform="rotate(75 161.1 49.6)" class="il">500</text>
<text x="161.4" y="69.7" transform="rotate(10 161.4 68.1)" class="il">500</text>
<text x="131.2" y="104.5" transform="rotate(5 131.2 102.9)" class="il">750</text>
<text x="115.7" y="142.0" transform="rotate(10 115.7 140.4)" class="il">1000</text>
<text x="82.1" y="194.3" transform="rotate(10 82.1 192.7)" class="il">1250</text>
<text x="74.4" y="217.2" transform="rotate(15 74.4 215.6)" class="il">1500</text>
<text x="165.6" y="99.5" class="rl">Far North</text>
<text x="167.9" y="106.3" class="rl">Region</text>
<text x="133.7" y="175.3" class="rl">North Region</text>
<text x="130.2" y="223.7" class="rl">Adamawa</text>
<text x="131.0" y="229.9" class="rl">Region</text>
<text x="48.2" y="45.2" class="lt">Legend</text>
<rect x="48.2" y="49.1" width="11.4" height="6" fill="#b9eef0" stroke="#777" stroke-width="0.5"/>
<text x="61.7" y="54.2" class="lg">&lt; 900</text>
<rect x="48.2" y="57.7" width="11.4" height="6" fill="#5a9fe9" stroke="#777" stroke-width="0.5"/>
<text x="61.7" y="62.8" class="lg">900 – 1150</text>
<rect x="48.2" y="66.3" width="11.4" height="6" fill="#2258cf" stroke="#777" stroke-width="0.5"/>
<text x="61.7" y="71.4" class="lg">1151 – 1400</text>
<rect x="48.2" y="74.9" width="11.4" height="6" fill="#04048c" stroke="#777" stroke-width="0.5"/>
<text x="61.7" y="80.0" class="lg">&gt; 1400</text>
<g transform="translate(200.9 46.6)"><path d="M0 -6 L0.9 -2.2 L-0.9 -2.2Z M0 6 L0.9 2.2 L-0.9 2.2Z M-5.8 0 L-2.2 -0.9 L-2.2 0.9Z M5.8 0 L2.2 -0.9 L2.2 0.9Z" fill="#222"/><path d="M0 -3.3 L3.3 0 L0 3.3 L-3.3 0Z" fill="#fff" stroke="#111" stroke-width="0.5"/><path d="M0 0 L0 -3.3 L3.3 0Z M0 0 L0 3.3 L-3.3 0Z" fill="#111"/><text x="0" y="-7.3" class="cp">N</text><text x="0" y="10" class="cp">S</text><text x="-8.2" y="1.1" class="cp">W</text><text x="8" y="1.1" class="cp">E</text></g>
<path d="M48.4 275 V278.6 H83.4 V275 M65.9 275.5 V278.6" fill="none" stroke="#111" stroke-width="1.1"/>
<text x="48.4" y="272.6" class="sc" text-anchor="middle">0</text>
<text x="65.9" y="272.6" class="sc" text-anchor="middle">60</text>
<text x="80.3" y="272.6" class="sc">120 km</text>
</g>
<g transform="translate(176.0 253.0)">
<rect x="44.30" y="33.90" width="170" height="246.3" fill="#fff" stroke="#111" stroke-width="1.5"/>
<g clip-path="url(#clipOut)">
<rect x="40" y="30" width="200" height="260" fill="#b9eef0"/>
<rect x="145" y="35.0" width="22" height="1.5" fill="#2258cf"/>
<rect x="145" y="36.5" width="22" height="1.5" fill="#5a9fe9"/>
<path d="M40.0 132.9 L123.6 132.9 C124.1 133.9 125.2 136.4 126.5 138.7 C127.8 141.0 129.9 144.5 131.3 146.5 C132.7 148.5 132.9 149.6 134.8 150.8 C136.7 152.0 139.6 152.9 142.5 153.9 C145.4 154.9 149.3 155.5 152.2 156.8 C155.1 158.1 158.7 160.9 160.0 161.7 L240.0 161.7 L240.0 300.0 L40.0 300.0Z" fill="#5a9fe9"/>
<path d="M40.0 195.5 L90.6 195.5 C92.0 195.2 95.9 194.4 99.3 193.6 C102.7 192.8 107.4 191.2 111.0 190.7 C114.6 190.2 116.7 190.0 120.7 190.7 C124.7 191.3 130.8 193.5 134.8 194.6 C138.8 195.7 141.3 196.1 144.5 197.5 C147.7 198.9 151.0 200.9 154.2 203.3 C157.4 205.7 161.1 209.6 163.8 212.0 C166.5 214.4 168.0 217.6 170.6 217.8 C173.2 218.0 176.3 214.4 179.4 213.0 C182.5 211.6 186.1 209.6 189.0 209.1 C191.9 208.6 195.5 209.9 196.8 210.1 L240.0 210.0 L240.0 300.0 L40.0 300.0Z" fill="#2258cf"/>
<path d="M40.0 215.9 L81.0 215.9 C82.3 216.1 85.7 216.2 88.7 216.8 C91.8 217.4 95.6 218.6 99.3 219.7 C103.0 220.8 107.4 222.0 111.0 223.6 C114.6 225.2 117.5 227.4 120.7 229.5 C123.9 231.6 127.5 234.5 130.3 236.3 C133.1 238.1 135.8 240.0 137.7 240.3 C139.6 240.6 140.6 238.4 141.9 238.2 C143.2 238.0 144.3 238.0 145.3 238.9 C146.3 239.8 147.2 241.7 147.9 243.6 C148.6 245.5 149.3 248.4 149.6 250.4 C149.9 252.4 150.4 254.1 149.6 255.5 C148.8 256.9 147.1 258.2 144.5 258.9 C141.9 259.6 137.1 259.4 134.3 259.8 C131.5 260.2 128.9 260.8 127.5 261.4 C126.1 261.9 126.1 262.8 125.8 263.1 L125.8 300.0 L40.0 300.0Z" fill="#04048c"/>
</g>
<path d="M131.2 129.1 L132.9 128.5 L134.6 127.8 L136.2 126.9 L137.9 126.9 L139.6 126.8 L141.3 126.2 L143.1 127.1 L145.0 127.6 L146.6 129.0 L148.6 129.8 L150.3 131.0 L151.5 132.7 L152.2 134.1 L152.9 135.6" fill="none" stroke="#111" stroke-width="0.95" stroke-linejoin="round"/><path d="M89.9 193.6 L91.4 195.0 L92.9 196.4 L94.5 197.7 L95.7 199.4 L97.3 200.1 L99.2 199.6 L100.8 200.5 L102.5 200.8 L102.4 203.0 L103.6 204.9 L103.4 207.1 L105.3 207.7 L107.2 208.4 L109.4 208.4 L111.2 209.3 L113.1 210.0 L115.3 210.0 L117.4 209.6 L119.5 209.7 L121.6 208.9 L123.8 209.1 L123.7 206.9 L123.8 204.7 L124.5 202.6 L124.7 200.4 L126.6 201.2 L128.6 201.1 L130.5 201.3 L132.0 201.8 L133.5 201.5 L135.0 201.8 L136.9 202.8 L138.9 203.3 L140.2 205.0 L141.0 207.0 L141.6 209.2 L142.7 211.0 L144.3 212.3 L146.1 213.2 L148.1 214.0 L149.5 215.5 L151.3 216.3 L152.9 217.3 L154.4 218.6 L155.6 220.4 L156.0 222.6 L157.3 224.4 L158.8 225.1 L159.6 226.7 L161.1 227.3 L162.6 228.4 L164.7 228.3 L166.3 229.4 L167.9 230.2 L169.6 229.5 L171.1 228.3 L173.0 228.0 L174.5 227.4 L176.2 227.3 L177.6 226.3 L179.4 225.3 L181.5 225.1 L183.4 224.4 L185.2 223.0 L187.3 222.4" fill="none" stroke="#111" stroke-width="0.95" stroke-linejoin="round"/>
<path d="M134.8 112.3 C136.4 112.3 141.4 111.5 144.5 112.3 C147.6 113.1 150.3 114.7 153.2 117.1 C156.1 119.5 159.2 124.3 161.9 126.8 C164.7 129.3 167.3 131.9 169.7 132.2 C172.1 132.5 173.8 130.9 176.4 128.7 C179.0 126.5 183.7 120.7 185.2 119.1" fill="none" stroke="#f5142d" stroke-width="1.05"/>
<path d="M109.0 166.8 C111.0 167.0 116.4 167.0 120.7 167.8 C125.0 168.6 130.8 170.6 134.8 171.4 C138.8 172.2 141.4 172.1 144.5 172.9 C147.6 173.7 150.3 174.5 153.2 176.2 C156.1 177.9 159.0 180.7 161.9 182.9 C164.8 185.2 168.2 189.4 170.6 189.7 C173.0 190.0 174.4 186.6 176.4 184.9 C178.4 183.2 181.3 180.4 182.3 179.5" fill="none" stroke="#f5142d" stroke-width="1.05"/>
<path d="M87.7 201.3 C89.2 201.6 93.3 202.3 96.4 203.3 C99.5 204.3 103.3 207.2 106.1 207.2 C108.8 207.2 110.5 204.4 112.9 203.3 C115.3 202.2 117.0 200.8 120.7 200.8 C124.4 200.8 131.2 202.4 134.8 203.3 C138.4 204.2 139.6 204.4 142.5 206.2 C145.4 208.0 149.3 211.2 152.2 213.9 C155.1 216.7 157.7 220.1 160.0 222.7 C162.3 225.3 163.9 227.9 165.8 229.4 C167.7 230.9 169.7 232.0 171.6 231.8 C173.5 231.7 175.5 230.0 177.4 228.5 C179.3 227.0 181.4 224.0 183.2 222.7 C185.0 221.4 187.3 221.0 188.1 220.7" fill="none" stroke="#f5142d" stroke-width="1.05"/>
<path d="M71.3 230.4 C72.1 231.1 74.3 232.1 76.1 234.3 C77.9 236.5 80.6 240.6 81.9 243.4 C83.2 246.2 83.6 248.9 83.9 251.2 C84.2 253.5 83.6 256.4 83.5 257.4" fill="none" stroke="#f5142d" stroke-width="1.05"/>
<path d="M150.7 40.9 C151.9 41.0 155.5 40.8 158.0 41.3 C160.5 41.8 164.5 43.3 165.8 43.7" fill="none" stroke="#f5142d" stroke-width="1.05"/>
<path d="M151.8 46.7 C152.7 46.5 155.1 44.9 157.1 45.6 C159.1 46.3 161.6 49.3 163.8 51.0 C166.1 52.7 168.7 54.8 170.6 55.9 C172.5 57.0 174.7 57.5 175.5 57.8" fill="none" stroke="#f5142d" stroke-width="1.05"/>
<path d="M165.8 77.2 C166.6 77.2 168.8 77.8 170.6 77.2 C172.4 76.7 174.6 74.5 176.4 73.9 C178.2 73.4 180.5 73.9 181.3 73.9" fill="none" stroke="#f5142d" stroke-width="1.05"/>
<path d="M149.5 35.3 L161.5 35.3 L162.6 36.1 L163.1 37.5 L164.0 38.5 L165.2 39.9 L166.1 41.5 L166.3 43.0 L166.8 44.5 L168.0 45.9 L169.8 46.5 L170.7 48.2 L172.3 48.7 L172.8 50.6 L174.3 51.2 L174.8 52.8 L175.1 54.4 L174.9 56.0 L174.6 57.6 L175.7 58.9 L176.1 60.3 L175.8 62.2 L176.5 63.9 L176.7 65.7 L177.8 66.7 L179.4 66.9 L180.4 68.1 L180.3 69.9 L180.0 71.8 L180.6 73.6 L180.8 75.2 L180.7 76.8 L181.0 78.4 L181.5 80.0 L182.2 81.5 L181.2 83.1 L181.5 84.7 L181.7 86.2 L181.8 87.8 L182.0 89.3 L180.7 90.8 L181.1 92.4 L180.9 93.9 L180.7 95.5 L180.6 97.2 L181.0 98.8 L180.8 100.4 L181.7 102.0 L181.7 103.6 L181.1 105.1 L181.4 106.7 L180.6 108.1 L181.0 109.7 L181.2 111.5 L182.9 112.6 L183.5 114.1 L184.1 115.7 L184.4 117.4 L184.8 119.2 L186.4 120.1 L187.2 121.7 L188.5 122.8 L189.2 124.3 L190.4 125.6 L191.2 127.1 L192.6 128.0 L193.6 129.3 L194.9 130.4 L195.8 131.8 L197.2 132.6 L198.3 133.9 L199.9 134.5 L198.1 134.3 L196.4 134.5 L194.8 135.2 L193.1 135.8 L191.4 136.1 L189.9 135.0 L188.3 134.7 L186.7 134.6 L185.0 135.0 L183.4 134.9 L181.6 135.1 L180.1 136.2 L178.2 135.9 L176.6 136.8 L171.8 136.8 L170.3 136.3 L168.6 136.3 L167.0 136.3 L165.7 134.8 L164.0 134.9 L162.3 134.0 L160.4 135.1 L158.8 134.0 L157.0 134.2 L155.7 134.8 L154.4 135.6 L152.9 135.6 L152.7 136.9 L151.6 137.9 L151.5 139.2 L149.9 140.3 L149.6 142.5 L147.9 143.6 L146.7 144.4 L146.1 146.0 L144.6 146.5 L145.2 147.9 L146.5 148.8 L147.1 150.1 L147.8 151.6 L148.8 152.8 L150.4 153.4 L151.5 154.5 L152.1 156.1 L153.9 156.5 L155.2 157.3 L155.9 158.8 L157.2 160.0 L159.2 160.4 L160.2 162.0 L161.7 162.9 L162.6 164.2 L163.6 165.6 L165.2 166.3 L166.0 167.8 L167.7 168.3 L168.3 170.1 L170.0 170.5 L170.7 172.2 L172.1 173.1 L173.7 173.6 L175.0 174.8 L176.1 176.1 L177.2 177.5 L178.3 178.9 L179.6 180.0 L180.8 180.8 L182.1 181.4 L183.4 182.0 L184.2 183.7 L184.8 185.5 L186.3 186.8 L187.3 188.4 L188.0 190.2 L189.2 191.6 L190.3 193.0 L191.0 194.6 L190.9 196.6 L192.3 197.9 L193.1 199.4 L193.7 200.9 L195.0 202.0 L195.2 203.7 L195.6 205.2 L197.0 206.4 L197.0 208.1 L196.3 209.7 L195.8 211.3 L196.1 213.2 L195.0 214.7 L193.6 215.9 L192.5 217.3 L191.0 218.4 L190.0 220.0 L188.4 220.9 L187.3 222.4 L186.3 224.0 L186.5 226.1 L185.7 227.7 L184.4 229.2 L183.6 230.7 L182.6 232.1 L183.0 234.0 L182.1 235.5 L181.5 237.0 L180.2 238.1 L179.2 239.6 L178.0 240.7 L176.6 241.8 L176.1 243.3 L175.2 244.6 L174.2 245.8 L173.8 247.4 L172.8 248.6 L172.0 250.0 L170.6 250.9 L170.4 252.8 L168.9 253.7 L167.7 254.8 L167.0 256.3 L165.9 257.6 L164.6 258.7 L162.8 259.2 L162.0 260.8 L160.8 262.0 L159.2 262.7 L99.7 262.8 L98.6 262.2 L97.6 261.3 L96.4 260.9 L94.5 260.5 L93.1 259.4 L91.5 258.5 L90.0 257.4 L88.4 256.6 L86.6 256.9 L84.9 256.5 L83.7 255.3 L82.0 255.0 L80.6 256.1 L79.0 256.6 L77.2 256.8 L75.5 257.2 L74.2 258.4 L72.6 259.1 L71.1 260.1 L69.4 260.4 L67.8 261.4 L66.0 261.3 L64.4 262.2 L62.6 262.3 L60.8 262.1 L59.2 262.8 L59.5 261.1 L58.5 259.4 L58.5 257.7 L58.7 256.0 L57.2 254.9 L55.3 254.5 L55.3 253.6 L56.3 253.5 L57.3 253.1 L57.7 251.5 L57.1 250.0 L57.3 248.4 L55.3 248.2 L55.0 247.1 L55.8 246.3 L57.5 245.9 L59.2 246.5 L60.9 245.6 L62.6 245.8 L62.9 244.7 L63.6 243.9 L65.0 243.3 L66.5 242.9 L67.0 241.4 L67.7 240.0 L68.4 238.6 L68.8 237.2 L67.6 236.1 L67.9 234.7 L68.0 232.9 L69.4 231.8 L70.9 231.5 L72.0 230.6 L72.8 229.4 L74.7 229.4 L76.0 228.0 L77.6 227.4 L78.0 226.1 L77.1 225.0 L78.0 223.5 L77.3 221.7 L78.0 220.2 L78.9 218.8 L79.6 217.2 L80.0 215.6 L80.4 214.0 L81.0 212.4 L81.3 210.8 L82.0 209.2 L82.4 207.6 L82.8 206.0 L83.9 204.7 L85.0 203.7 L85.7 202.2 L87.0 201.3 L88.0 199.7 L87.6 197.5 L89.4 196.2 L89.5 194.2 L90.2 193.0 L90.4 191.6 L91.0 190.0 L91.0 188.4 L90.4 186.8 L91.8 185.6 L92.2 183.9 L93.7 183.7 L95.0 182.6 L96.6 182.9 L97.2 181.2 L97.2 179.4 L98.0 178.6 L99.2 178.7 L100.7 177.5 L102.6 176.9 L104.1 175.8 L105.7 174.8 L106.1 173.0 L107.4 171.4 L107.3 169.4 L108.2 168.0 L108.6 166.4 L109.2 164.9 L110.2 163.6 L110.5 161.9 L109.8 160.3 L110.1 158.6 L109.4 157.1 L109.4 155.4 L110.2 154.1 L111.6 153.5 L112.9 152.9 L113.7 151.6 L115.2 150.6 L117.1 150.9 L118.8 150.5 L120.3 149.4 L121.4 148.4 L122.1 147.2 L122.4 145.8 L122.2 144.1 L123.6 142.9 L123.9 141.4 L124.2 139.9 L122.8 138.6 L123.2 137.0 L122.9 135.6 L122.9 134.1 L123.2 132.7 L124.3 132.0 L125.3 131.2 L126.5 130.4 L127.8 129.7 L129.3 129.4 L130.4 128.3 L130.2 126.6 L130.8 125.2 L131.9 124.0 L131.4 122.3 L131.4 120.6 L131.9 118.9 L131.8 117.0 L133.5 115.7 L133.3 113.8 L134.5 112.8 L134.2 111.0 L135.5 110.0 L136.2 108.7 L135.9 107.2 L136.2 105.8 L136.9 104.5 L137.8 103.3 L138.9 102.3 L139.9 101.3 L140.6 100.0 L141.3 98.8 L141.8 97.4 L143.3 96.3 L144.8 95.1 L146.7 94.5 L147.5 93.6 L148.6 93.0 L150.3 92.3 L152.1 92.7 L153.9 92.7 L155.5 92.0 L157.3 92.0 L158.3 90.7 L159.8 90.1 L161.2 89.5 L162.7 89.0 L164.0 88.1 L164.7 86.6 L164.6 84.8 L165.5 83.3 L165.6 81.7 L165.8 80.0 L166.1 78.6 L166.5 77.3 L167.1 76.0 L167.1 74.4 L167.4 72.8 L167.1 71.2 L167.2 69.6 L167.8 68.0 L167.7 66.3 L167.0 64.5 L166.5 62.7 L165.4 61.5 L164.9 59.9 L164.0 58.5 L162.5 58.0 L160.8 58.6 L159.3 57.8 L157.7 57.6 L156.2 57.2 L155.1 56.3 L153.9 55.8 L152.5 56.0 L152.2 54.5 L152.8 52.8 L152.5 51.3 L151.7 49.8 L151.9 48.2 L151.6 46.4 L150.8 44.6 L151.4 42.7 L150.7 40.9 L150.6 39.5 L150.6 38.0 L150.2 36.6Z" fill="none" stroke="#0a0a0a" stroke-width="1.9" stroke-linejoin="round"/>
<text x="172.0" y="44.5" transform="rotate(15 172.0 42.9)" class="il">750</text>
<text x="181.0" y="61.3" transform="rotate(20 181.0 59.7)" class="il">500</text>
<text x="159.7" y="78.2" transform="rotate(0 159.7 76.6)" class="il">500</text>
<text x="190.6" y="116.8" transform="rotate(-55 190.6 115.2)" class="il">750</text>
<text x="102.3" y="168.4" transform="rotate(3 102.3 166.8)" class="il">1000</text>
<text x="82.9" y="189.1" transform="rotate(38 82.9 187.5)" class="il">1250</text>
<text x="66.4" y="227.2" transform="rotate(55 66.4 225.6)" class="il">1500</text>
<text x="166.8" y="104.6" class="rl">Far North</text>
<text x="168.7" y="110.4" class="rl">Region</text>
<text x="132.5" y="162.0" class="rl">North Region</text>
<text x="128.9" y="221.0" class="rl">Adamawa</text>
<text x="129.7" y="228.6" class="rl">Region</text>
<text x="47.2" y="43.4" class="lt">Legend</text>
<rect x="47.2" y="47.3" width="11.4" height="6" fill="#b9eef0" stroke="#777" stroke-width="0.5"/>
<text x="60.7" y="52.4" class="lg">&lt; 900</text>
<rect x="47.2" y="55.9" width="11.4" height="6" fill="#5a9fe9" stroke="#777" stroke-width="0.5"/>
<text x="60.7" y="61.0" class="lg">900 – 1150</text>
<rect x="47.2" y="64.5" width="11.4" height="6" fill="#2258cf" stroke="#777" stroke-width="0.5"/>
<text x="60.7" y="69.6" class="lg">1151 – 1400</text>
<rect x="47.2" y="73.1" width="11.4" height="6" fill="#04048c" stroke="#777" stroke-width="0.5"/>
<text x="60.7" y="78.2" class="lg">&gt; 1400</text>
<g transform="translate(200.9 46.6)"><path d="M0 -6 L0.9 -2.2 L-0.9 -2.2Z M0 6 L0.9 2.2 L-0.9 2.2Z M-5.8 0 L-2.2 -0.9 L-2.2 0.9Z M5.8 0 L2.2 -0.9 L2.2 0.9Z" fill="#222"/><path d="M0 -3.3 L3.3 0 L0 3.3 L-3.3 0Z" fill="#fff" stroke="#111" stroke-width="0.5"/><path d="M0 0 L0 -3.3 L3.3 0Z M0 0 L0 3.3 L-3.3 0Z" fill="#111"/><text x="0" y="-7.3" class="cp">N</text><text x="0" y="10" class="cp">S</text><text x="-8.2" y="1.1" class="cp">W</text><text x="8" y="1.1" class="cp">E</text></g>
<path d="M48.4 275 V278.6 H83.4 V275 M65.9 275.5 V278.6" fill="none" stroke="#111" stroke-width="1.1"/>
<text x="48.4" y="272.6" class="sc" text-anchor="middle">0</text>
<text x="65.9" y="272.6" class="sc" text-anchor="middle">60</text>
<text x="80.3" y="272.6" class="sc">120 km</text>
</g>
<line x1="83.5" y1="33.5" x2="83.5" y2="31.0" stroke="#111" stroke-width="0.9"/>
<text x="83.5" y="29.8" class="tk" text-anchor="middle">12° E</text>
<line x1="82.8" y1="533.2" x2="82.8" y2="535.8" stroke="#111" stroke-width="0.9"/>
<text x="82.8" y="540.7" class="tk" text-anchor="middle">12° E</text>
<line x1="178.8" y1="33.5" x2="178.8" y2="31.0" stroke="#111" stroke-width="0.9"/>
<text x="178.8" y="29.8" class="tk" text-anchor="middle">15° E</text>
<line x1="178.6" y1="533.2" x2="178.6" y2="535.8" stroke="#111" stroke-width="0.9"/>
<text x="178.6" y="540.7" class="tk" text-anchor="middle">15° E</text>
<line x1="259.6" y1="33.5" x2="259.6" y2="31.0" stroke="#111" stroke-width="0.9"/>
<text x="259.6" y="29.8" class="tk" text-anchor="middle">12° E</text>
<line x1="258.6" y1="533.2" x2="258.6" y2="535.8" stroke="#111" stroke-width="0.9"/>
<text x="258.6" y="540.7" class="tk" text-anchor="middle">12° E</text>
<line x1="354.7" y1="33.5" x2="354.7" y2="31.0" stroke="#111" stroke-width="0.9"/>
<text x="354.7" y="29.8" class="tk" text-anchor="middle">15° E</text>
<line x1="354.6" y1="533.2" x2="354.6" y2="535.8" stroke="#111" stroke-width="0.9"/>
<text x="354.6" y="540.7" class="tk" text-anchor="middle">15° E</text>
<line x1="40.5" y1="134.3" x2="43.8" y2="134.3" stroke="#111" stroke-width="0.9"/>
<text x="40" y="136.0" class="tk" text-anchor="end">10° N</text>
<line x1="390.1" y1="134.3" x2="393.0" y2="134.3" stroke="#111" stroke-width="0.9"/>
<text x="393.3" y="136.0" class="tk">10° N</text>
<line x1="40.5" y1="263.6" x2="43.8" y2="263.6" stroke="#111" stroke-width="0.9"/>
<text x="40" y="265.3" class="tk" text-anchor="end">6° N</text>
<line x1="390.1" y1="263.6" x2="393.0" y2="263.6" stroke="#111" stroke-width="0.9"/>
<text x="393.3" y="265.3" class="tk">6° N</text>
<line x1="40.5" y1="387.6" x2="43.8" y2="387.6" stroke="#111" stroke-width="0.9"/>
<text x="40" y="389.3" class="tk" text-anchor="end">10° N</text>
<line x1="390.1" y1="387.6" x2="393.0" y2="387.6" stroke="#111" stroke-width="0.9"/>
<text x="393.3" y="389.3" class="tk">10° N</text>
<line x1="40.5" y1="516.9" x2="43.8" y2="516.9" stroke="#111" stroke-width="0.9"/>
<text x="40" y="518.6" class="tk" text-anchor="end">6° N</text>
<line x1="390.1" y1="516.9" x2="393.0" y2="516.9" stroke="#111" stroke-width="0.9"/>
<text x="393.3" y="518.6" class="tk">6° N</text>
</svg></body></html>
